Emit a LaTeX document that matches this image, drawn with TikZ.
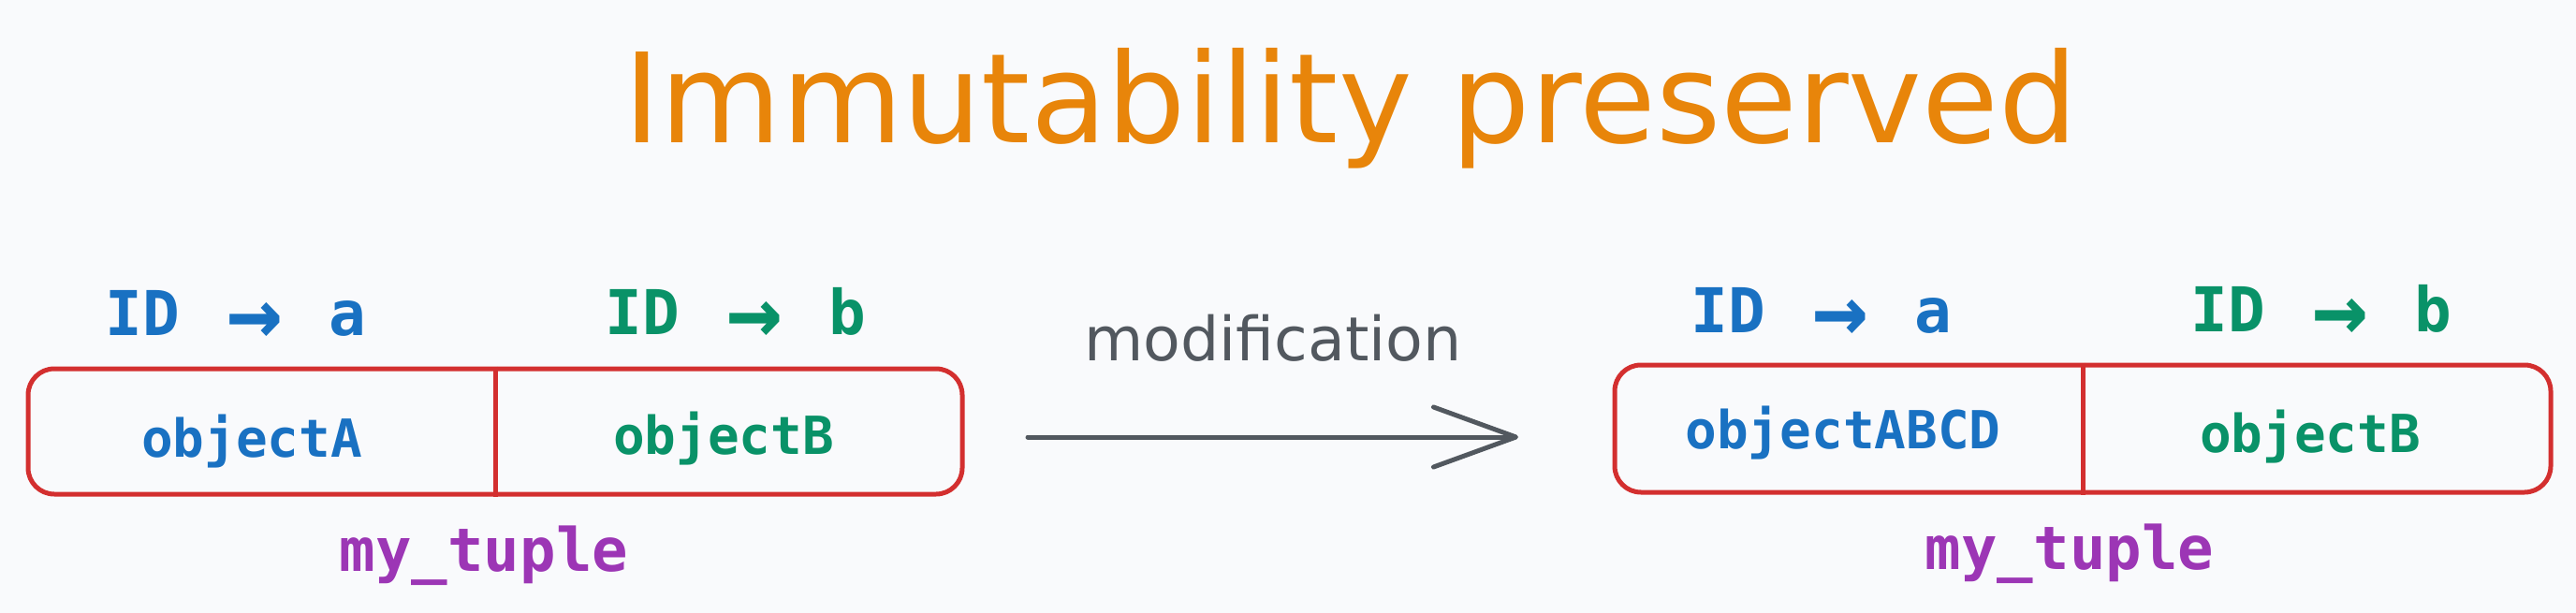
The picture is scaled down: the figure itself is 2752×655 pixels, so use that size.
\documentclass[tikz,border=0pt]{standalone}
\usepackage{fontspec}
\usepackage{graphicx}
\setmainfont{DejaVu Sans}
\setmonofont{DejaVu Sans Mono}
\usetikzlibrary{arrows.meta}
\definecolor{bgpage}{HTML}{F9FAFC}
\definecolor{titleorange}{HTML}{E8850A}
\definecolor{tuplered}{HTML}{D32F2F}
\definecolor{idblue}{HTML}{1971C2}
\definecolor{idgreen}{HTML}{099268}
\definecolor{namepurple}{HTML}{9C36B5}
\definecolor{arrowgray}{HTML}{52585F}
\newcommand\idarrow{\makebox[1.204em]{\raisebox{-0.17em}{\scalebox{1.5}[1.55]{→}}}}

\begin{document}
\begin{tikzpicture}[x=1pt, y=-1pt, every node/.style={
	inner sep=0pt
	, anchor=base
}]
\fill[bgpage] (0,0) rectangle (2752,655);
\useasboundingbox (0,0) rectangle (2752,655);

\node[text=titleorange, font=\fontsize{133}{140}\selectfont](title) at(1443,153) {Immutability preserved};

% the two tuples
\foreach [count=\i] \x \y \w \h in {
	529/461/998/134
	, 2225/458/1000/136
}{
	\node[draw=tuplered, line width=5pt, rounded corners=28pt, anchor=center
		, minimum width=\w pt, minimum height=\h pt](t\i) at(\x,\y) {};
	\draw[tuplered, line width=5pt] (t\i.north) -- (t\i.south);
}

\foreach [count=\i] \x \y \sz \col \name in {
	252/358/66/idblue/{ID \idarrow{} a}
	, 786/357/66/idgreen/{ID \idarrow{} b}
	, 1946/355/66/idblue/{ID \idarrow{} a}
	, 2480/354/66/idgreen/{ID \idarrow{} b}
	, 269/488/56/idblue/objectA
	, 773/485/56/idgreen/objectB
	, 1969/479/56/idblue/objectABCD
	, 2468/483/56/idgreen/objectB
	, 517/610/64/namepurple/{my\_tuple}
	, 2211/608/64/namepurple/{my\_tuple}
}{
	\node[text=\col, font=\fontsize{\sz}{\sz}\selectfont\ttfamily\bfseries](\i) at(\x,\y) {\name};
}

\coordinate (m0) at(1098,467);
\coordinate (m1) at(1622,467);
\draw[arrowgray, line width=5pt, line cap=round
	, -{Straight Barb[length=88pt, width=64pt, round]}]
	(m0) -- node[midway, yshift=82pt, font=\fontsize{65}{65}\selectfont]{modification} (m1);

\end{tikzpicture}
\end{document}
